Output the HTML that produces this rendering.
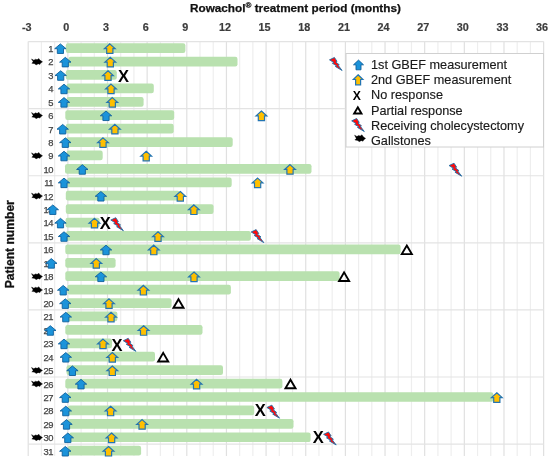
<!DOCTYPE html>
<html><head><meta charset="utf-8"><style>
html,body{margin:0;padding:0;background:#fff;}
body{width:550px;height:462px;overflow:hidden;position:relative;font-family:"Liberation Sans",sans-serif;}
svg{position:absolute;left:0;top:0;will-change:transform;filter:blur(0.3px);}
svg text{font-family:"Liberation Sans",sans-serif;}
</style></head><body>
<svg width="550" height="462" viewBox="0 0 550 462">
<text x="190" y="12" font-size="11.75" font-weight="bold" fill="#111" stroke="#111" stroke-width="0.25">Rowachol<tspan font-size="8" dy="-4">®</tspan><tspan dy="4"> treatment period (months)</tspan></text>
<text x="26.70" y="31" font-size="10.8" font-weight="bold" text-anchor="middle" fill="#3c3c3c" stroke="#3c3c3c" stroke-width="0.2">-3</text><text x="66.35" y="31" font-size="10.8" font-weight="bold" text-anchor="middle" fill="#3c3c3c" stroke="#3c3c3c" stroke-width="0.2">0</text><text x="106.00" y="31" font-size="10.8" font-weight="bold" text-anchor="middle" fill="#3c3c3c" stroke="#3c3c3c" stroke-width="0.2">3</text><text x="145.65" y="31" font-size="10.8" font-weight="bold" text-anchor="middle" fill="#3c3c3c" stroke="#3c3c3c" stroke-width="0.2">6</text><text x="185.29" y="31" font-size="10.8" font-weight="bold" text-anchor="middle" fill="#3c3c3c" stroke="#3c3c3c" stroke-width="0.2">9</text><text x="224.94" y="31" font-size="10.8" font-weight="bold" text-anchor="middle" fill="#3c3c3c" stroke="#3c3c3c" stroke-width="0.2">12</text><text x="264.59" y="31" font-size="10.8" font-weight="bold" text-anchor="middle" fill="#3c3c3c" stroke="#3c3c3c" stroke-width="0.2">15</text><text x="304.24" y="31" font-size="10.8" font-weight="bold" text-anchor="middle" fill="#3c3c3c" stroke="#3c3c3c" stroke-width="0.2">18</text><text x="343.89" y="31" font-size="10.8" font-weight="bold" text-anchor="middle" fill="#3c3c3c" stroke="#3c3c3c" stroke-width="0.2">21</text><text x="383.53" y="31" font-size="10.8" font-weight="bold" text-anchor="middle" fill="#3c3c3c" stroke="#3c3c3c" stroke-width="0.2">24</text><text x="423.18" y="31" font-size="10.8" font-weight="bold" text-anchor="middle" fill="#3c3c3c" stroke="#3c3c3c" stroke-width="0.2">27</text><text x="462.83" y="31" font-size="10.8" font-weight="bold" text-anchor="middle" fill="#3c3c3c" stroke="#3c3c3c" stroke-width="0.2">30</text><text x="502.48" y="31" font-size="10.8" font-weight="bold" text-anchor="middle" fill="#3c3c3c" stroke="#3c3c3c" stroke-width="0.2">33</text><text x="542.13" y="31" font-size="10.8" font-weight="bold" text-anchor="middle" fill="#3c3c3c" stroke="#3c3c3c" stroke-width="0.2">36</text>
<text transform="translate(14.0,244.2) rotate(-90)" font-size="12.1" font-weight="bold" text-anchor="middle" fill="#111" stroke="#111" stroke-width="0.3">Patient number</text>
<line x1="28.20" y1="41.5" x2="28.20" y2="456.0" stroke="#e0e0e0" stroke-width="1.2"/><line x1="41.42" y1="41.5" x2="41.42" y2="456.0" stroke="#eeeeee" stroke-width="1.2"/><line x1="54.63" y1="41.5" x2="54.63" y2="456.0" stroke="#eeeeee" stroke-width="1.2"/><line x1="67.85" y1="41.5" x2="67.85" y2="456.0" stroke="#e0e0e0" stroke-width="1.2"/><line x1="81.07" y1="41.5" x2="81.07" y2="456.0" stroke="#eeeeee" stroke-width="1.2"/><line x1="94.28" y1="41.5" x2="94.28" y2="456.0" stroke="#eeeeee" stroke-width="1.2"/><line x1="107.50" y1="41.5" x2="107.50" y2="456.0" stroke="#e0e0e0" stroke-width="1.2"/><line x1="120.71" y1="41.5" x2="120.71" y2="456.0" stroke="#eeeeee" stroke-width="1.2"/><line x1="133.93" y1="41.5" x2="133.93" y2="456.0" stroke="#eeeeee" stroke-width="1.2"/><line x1="147.15" y1="41.5" x2="147.15" y2="456.0" stroke="#e0e0e0" stroke-width="1.2"/><line x1="160.36" y1="41.5" x2="160.36" y2="456.0" stroke="#eeeeee" stroke-width="1.2"/><line x1="173.58" y1="41.5" x2="173.58" y2="456.0" stroke="#eeeeee" stroke-width="1.2"/><line x1="186.79" y1="41.5" x2="186.79" y2="456.0" stroke="#e0e0e0" stroke-width="1.2"/><line x1="200.01" y1="41.5" x2="200.01" y2="456.0" stroke="#eeeeee" stroke-width="1.2"/><line x1="213.23" y1="41.5" x2="213.23" y2="456.0" stroke="#eeeeee" stroke-width="1.2"/><line x1="226.44" y1="41.5" x2="226.44" y2="456.0" stroke="#e0e0e0" stroke-width="1.2"/><line x1="239.66" y1="41.5" x2="239.66" y2="456.0" stroke="#eeeeee" stroke-width="1.2"/><line x1="252.87" y1="41.5" x2="252.87" y2="456.0" stroke="#eeeeee" stroke-width="1.2"/><line x1="266.09" y1="41.5" x2="266.09" y2="456.0" stroke="#e0e0e0" stroke-width="1.2"/><line x1="279.31" y1="41.5" x2="279.31" y2="456.0" stroke="#eeeeee" stroke-width="1.2"/><line x1="292.52" y1="41.5" x2="292.52" y2="456.0" stroke="#eeeeee" stroke-width="1.2"/><line x1="305.74" y1="41.5" x2="305.74" y2="456.0" stroke="#e0e0e0" stroke-width="1.2"/><line x1="318.95" y1="41.5" x2="318.95" y2="456.0" stroke="#eeeeee" stroke-width="1.2"/><line x1="332.17" y1="41.5" x2="332.17" y2="456.0" stroke="#eeeeee" stroke-width="1.2"/><line x1="345.39" y1="41.5" x2="345.39" y2="456.0" stroke="#e0e0e0" stroke-width="1.2"/><line x1="358.60" y1="41.5" x2="358.60" y2="456.0" stroke="#eeeeee" stroke-width="1.2"/><line x1="371.82" y1="41.5" x2="371.82" y2="456.0" stroke="#eeeeee" stroke-width="1.2"/><line x1="385.03" y1="41.5" x2="385.03" y2="456.0" stroke="#e0e0e0" stroke-width="1.2"/><line x1="398.25" y1="41.5" x2="398.25" y2="456.0" stroke="#eeeeee" stroke-width="1.2"/><line x1="411.47" y1="41.5" x2="411.47" y2="456.0" stroke="#eeeeee" stroke-width="1.2"/><line x1="424.68" y1="41.5" x2="424.68" y2="456.0" stroke="#e0e0e0" stroke-width="1.2"/><line x1="437.90" y1="41.5" x2="437.90" y2="456.0" stroke="#eeeeee" stroke-width="1.2"/><line x1="451.11" y1="41.5" x2="451.11" y2="456.0" stroke="#eeeeee" stroke-width="1.2"/><line x1="464.33" y1="41.5" x2="464.33" y2="456.0" stroke="#e0e0e0" stroke-width="1.2"/><line x1="477.55" y1="41.5" x2="477.55" y2="456.0" stroke="#eeeeee" stroke-width="1.2"/><line x1="490.76" y1="41.5" x2="490.76" y2="456.0" stroke="#eeeeee" stroke-width="1.2"/><line x1="503.98" y1="41.5" x2="503.98" y2="456.0" stroke="#e0e0e0" stroke-width="1.2"/><line x1="517.19" y1="41.5" x2="517.19" y2="456.0" stroke="#eeeeee" stroke-width="1.2"/><line x1="530.41" y1="41.5" x2="530.41" y2="456.0" stroke="#eeeeee" stroke-width="1.2"/><line x1="543.63" y1="41.5" x2="543.63" y2="456.0" stroke="#e0e0e0" stroke-width="1.2"/><line x1="28.20" y1="41.55" x2="543.63" y2="41.55" stroke="#e3e3e3" stroke-width="1.2"/><line x1="28.20" y1="108.64" x2="543.63" y2="108.64" stroke="#e3e3e3" stroke-width="1.2"/><line x1="28.20" y1="175.73" x2="543.63" y2="175.73" stroke="#e3e3e3" stroke-width="1.2"/><line x1="28.20" y1="242.82" x2="543.63" y2="242.82" stroke="#e3e3e3" stroke-width="1.2"/><line x1="28.20" y1="309.91" x2="543.63" y2="309.91" stroke="#e3e3e3" stroke-width="1.2"/><line x1="28.20" y1="377.00" x2="543.63" y2="377.00" stroke="#e3e3e3" stroke-width="1.2"/><line x1="28.20" y1="444.09" x2="543.63" y2="444.09" stroke="#e3e3e3" stroke-width="1.2"/><rect x="65.80" y="43.26" width="119.60" height="9.7" rx="2.2" fill="#b9e1af"/><rect x="68.30" y="56.68" width="169.20" height="9.7" rx="2.2" fill="#b9e1af"/><rect x="65.80" y="70.10" width="51.00" height="9.7" rx="2.2" fill="#b9e1af"/><rect x="66.50" y="83.51" width="87.30" height="9.7" rx="2.2" fill="#b9e1af"/><rect x="66.50" y="96.93" width="77.10" height="9.7" rx="2.2" fill="#b9e1af"/><rect x="65.30" y="110.35" width="108.90" height="9.7" rx="2.2" fill="#b9e1af"/><rect x="65.80" y="123.77" width="107.90" height="9.7" rx="2.2" fill="#b9e1af"/><rect x="66.00" y="137.19" width="166.70" height="9.7" rx="2.2" fill="#b9e1af"/><rect x="66.50" y="150.60" width="36.20" height="9.7" rx="2.2" fill="#b9e1af"/><rect x="65.00" y="164.02" width="246.50" height="9.7" rx="2.2" fill="#b9e1af"/><rect x="67.30" y="177.44" width="164.40" height="9.7" rx="2.2" fill="#b9e1af"/><rect x="65.80" y="190.86" width="114.20" height="9.7" rx="2.2" fill="#b9e1af"/><rect x="65.80" y="204.28" width="147.80" height="9.7" rx="2.2" fill="#b9e1af"/><rect x="65.50" y="217.69" width="34.10" height="9.7" rx="2.2" fill="#b9e1af"/><rect x="66.00" y="231.11" width="184.90" height="9.7" rx="2.2" fill="#b9e1af"/><rect x="65.30" y="244.53" width="335.30" height="9.7" rx="2.2" fill="#b9e1af"/><rect x="65.30" y="257.95" width="50.30" height="9.7" rx="2.2" fill="#b9e1af"/><rect x="65.30" y="271.37" width="274.30" height="9.7" rx="2.2" fill="#b9e1af"/><rect x="67.30" y="284.78" width="163.60" height="9.7" rx="2.2" fill="#b9e1af"/><rect x="67.00" y="298.20" width="104.60" height="9.7" rx="2.2" fill="#b9e1af"/><rect x="66.50" y="311.62" width="50.90" height="9.7" rx="2.2" fill="#b9e1af"/><rect x="65.30" y="325.04" width="137.20" height="9.7" rx="2.2" fill="#b9e1af"/><rect x="66.00" y="338.46" width="46.00" height="9.7" rx="2.2" fill="#b9e1af"/><rect x="67.80" y="351.87" width="87.20" height="9.7" rx="2.2" fill="#b9e1af"/><rect x="66.50" y="365.29" width="156.50" height="9.7" rx="2.2" fill="#b9e1af"/><rect x="65.30" y="378.71" width="217.10" height="9.7" rx="2.2" fill="#b9e1af"/><rect x="67.80" y="392.13" width="425.50" height="9.7" rx="2.2" fill="#b9e1af"/><rect x="67.80" y="405.55" width="186.40" height="9.7" rx="2.2" fill="#b9e1af"/><rect x="67.80" y="418.96" width="225.70" height="9.7" rx="2.2" fill="#b9e1af"/><rect x="69.00" y="432.38" width="241.60" height="9.7" rx="2.2" fill="#b9e1af"/><rect x="67.80" y="445.80" width="73.30" height="9.7" rx="2.2" fill="#b9e1af"/><text x="53.2" y="52.06" font-size="9.4" letter-spacing="-0.4" text-anchor="end" fill="#444" stroke="#444" stroke-width="0.25">1</text><text x="53.2" y="65.48" font-size="9.4" letter-spacing="-0.4" text-anchor="end" fill="#444" stroke="#444" stroke-width="0.25">2</text><polygon points="31.50,58.94 33.90,60.23 35.50,59.20 37.10,59.80 38.90,58.60 39.80,60.06 42.50,61.86 40.50,63.24 39.90,64.44 38.30,63.84 36.00,64.96 34.90,63.76 31.80,63.24 33.20,61.86" fill="#000" stroke="#000" stroke-width="0.4" stroke-linejoin="round"/><ellipse cx="37.10" cy="61.78" rx="3.50" ry="2.06" fill="#000"/><text x="53.2" y="78.90" font-size="9.4" letter-spacing="-0.4" text-anchor="end" fill="#444" stroke="#444" stroke-width="0.25">3</text><text x="53.2" y="92.31" font-size="9.4" letter-spacing="-0.4" text-anchor="end" fill="#444" stroke="#444" stroke-width="0.25">4</text><text x="53.2" y="105.73" font-size="9.4" letter-spacing="-0.4" text-anchor="end" fill="#444" stroke="#444" stroke-width="0.25">5</text><text x="53.2" y="119.15" font-size="9.4" letter-spacing="-0.4" text-anchor="end" fill="#444" stroke="#444" stroke-width="0.25">6</text><polygon points="31.50,112.61 33.90,113.90 35.50,112.87 37.10,113.47 38.90,112.27 39.80,113.73 42.50,115.54 40.50,116.91 39.90,118.12 38.30,117.51 36.00,118.63 34.90,117.43 31.80,116.91 33.20,115.54" fill="#000" stroke="#000" stroke-width="0.4" stroke-linejoin="round"/><ellipse cx="37.10" cy="115.45" rx="3.50" ry="2.06" fill="#000"/><text x="53.2" y="132.57" font-size="9.4" letter-spacing="-0.4" text-anchor="end" fill="#444" stroke="#444" stroke-width="0.25">7</text><text x="53.2" y="145.99" font-size="9.4" letter-spacing="-0.4" text-anchor="end" fill="#444" stroke="#444" stroke-width="0.25">8</text><text x="53.2" y="159.40" font-size="9.4" letter-spacing="-0.4" text-anchor="end" fill="#444" stroke="#444" stroke-width="0.25">9</text><polygon points="31.50,152.87 33.90,154.16 35.50,153.12 37.10,153.73 38.90,152.52 39.80,153.98 42.50,155.79 40.50,157.17 39.90,158.37 38.30,157.77 36.00,158.89 34.90,157.68 31.80,157.17 33.20,155.79" fill="#000" stroke="#000" stroke-width="0.4" stroke-linejoin="round"/><ellipse cx="37.10" cy="155.70" rx="3.50" ry="2.06" fill="#000"/><text x="53.2" y="172.82" font-size="9.4" letter-spacing="-0.4" text-anchor="end" fill="#444" stroke="#444" stroke-width="0.25">10</text><text x="53.2" y="186.24" font-size="9.4" letter-spacing="-0.4" text-anchor="end" fill="#444" stroke="#444" stroke-width="0.25">11</text><text x="53.2" y="199.66" font-size="9.4" letter-spacing="-0.4" text-anchor="end" fill="#444" stroke="#444" stroke-width="0.25">12</text><polygon points="31.50,193.12 33.90,194.41 35.50,193.38 37.10,193.98 38.90,192.78 39.80,194.24 42.50,196.04 40.50,197.42 39.90,198.62 38.30,198.02 36.00,199.14 34.90,197.94 31.80,197.42 33.20,196.04" fill="#000" stroke="#000" stroke-width="0.4" stroke-linejoin="round"/><ellipse cx="37.10" cy="195.96" rx="3.50" ry="2.06" fill="#000"/><text x="53.2" y="213.08" font-size="9.4" letter-spacing="-0.4" text-anchor="end" fill="#444" stroke="#444" stroke-width="0.25">13</text><text x="53.2" y="226.49" font-size="9.4" letter-spacing="-0.4" text-anchor="end" fill="#444" stroke="#444" stroke-width="0.25">14</text><text x="53.2" y="239.91" font-size="9.4" letter-spacing="-0.4" text-anchor="end" fill="#444" stroke="#444" stroke-width="0.25">15</text><text x="53.2" y="253.33" font-size="9.4" letter-spacing="-0.4" text-anchor="end" fill="#444" stroke="#444" stroke-width="0.25">16</text><text x="53.2" y="266.75" font-size="9.4" letter-spacing="-0.4" text-anchor="end" fill="#444" stroke="#444" stroke-width="0.25">17</text><text x="53.2" y="280.17" font-size="9.4" letter-spacing="-0.4" text-anchor="end" fill="#444" stroke="#444" stroke-width="0.25">18</text><polygon points="31.50,273.63 33.90,274.92 35.50,273.89 37.10,274.49 38.90,273.28 39.80,274.75 42.50,276.55 40.50,277.93 39.90,279.13 38.30,278.53 36.00,279.65 34.90,278.44 31.80,277.93 33.20,276.55" fill="#000" stroke="#000" stroke-width="0.4" stroke-linejoin="round"/><ellipse cx="37.10" cy="276.47" rx="3.50" ry="2.06" fill="#000"/><text x="53.2" y="293.58" font-size="9.4" letter-spacing="-0.4" text-anchor="end" fill="#444" stroke="#444" stroke-width="0.25">19</text><polygon points="31.50,287.05 33.90,288.34 35.50,287.30 37.10,287.91 38.90,286.70 39.80,288.16 42.50,289.97 40.50,291.35 39.90,292.55 38.30,291.95 36.00,293.07 34.90,291.86 31.80,291.35 33.20,289.97" fill="#000" stroke="#000" stroke-width="0.4" stroke-linejoin="round"/><ellipse cx="37.10" cy="289.88" rx="3.50" ry="2.06" fill="#000"/><text x="53.2" y="307.00" font-size="9.4" letter-spacing="-0.4" text-anchor="end" fill="#444" stroke="#444" stroke-width="0.25">20</text><text x="53.2" y="320.42" font-size="9.4" letter-spacing="-0.4" text-anchor="end" fill="#444" stroke="#444" stroke-width="0.25">21</text><text x="53.2" y="333.84" font-size="9.4" letter-spacing="-0.4" text-anchor="end" fill="#444" stroke="#444" stroke-width="0.25">22</text><text x="53.2" y="347.26" font-size="9.4" letter-spacing="-0.4" text-anchor="end" fill="#444" stroke="#444" stroke-width="0.25">23</text><text x="53.2" y="360.67" font-size="9.4" letter-spacing="-0.4" text-anchor="end" fill="#444" stroke="#444" stroke-width="0.25">24</text><text x="53.2" y="374.09" font-size="9.4" letter-spacing="-0.4" text-anchor="end" fill="#444" stroke="#444" stroke-width="0.25">25</text><polygon points="31.50,367.55 33.90,368.84 35.50,367.81 37.10,368.41 38.90,367.21 39.80,368.67 42.50,370.48 40.50,371.85 39.90,373.06 38.30,372.46 36.00,373.57 34.90,372.37 31.80,371.85 33.20,370.48" fill="#000" stroke="#000" stroke-width="0.4" stroke-linejoin="round"/><ellipse cx="37.10" cy="370.39" rx="3.50" ry="2.06" fill="#000"/><text x="53.2" y="387.51" font-size="9.4" letter-spacing="-0.4" text-anchor="end" fill="#444" stroke="#444" stroke-width="0.25">26</text><polygon points="31.50,380.97 33.90,382.26 35.50,381.23 37.10,381.83 38.90,380.63 39.80,382.09 42.50,383.90 40.50,385.27 39.90,386.48 38.30,385.87 36.00,386.99 34.90,385.79 31.80,385.27 33.20,383.90" fill="#000" stroke="#000" stroke-width="0.4" stroke-linejoin="round"/><ellipse cx="37.10" cy="383.81" rx="3.50" ry="2.06" fill="#000"/><text x="53.2" y="400.93" font-size="9.4" letter-spacing="-0.4" text-anchor="end" fill="#444" stroke="#444" stroke-width="0.25">27</text><text x="53.2" y="414.35" font-size="9.4" letter-spacing="-0.4" text-anchor="end" fill="#444" stroke="#444" stroke-width="0.25">28</text><text x="53.2" y="427.76" font-size="9.4" letter-spacing="-0.4" text-anchor="end" fill="#444" stroke="#444" stroke-width="0.25">29</text><text x="53.2" y="441.18" font-size="9.4" letter-spacing="-0.4" text-anchor="end" fill="#444" stroke="#444" stroke-width="0.25">30</text><polygon points="31.50,434.64 33.90,435.93 35.50,434.90 37.10,435.50 38.90,434.30 39.80,435.76 42.50,437.57 40.50,438.94 39.90,440.15 38.30,439.55 36.00,440.66 34.90,439.46 31.80,438.94 33.20,437.57" fill="#000" stroke="#000" stroke-width="0.4" stroke-linejoin="round"/><ellipse cx="37.10" cy="437.48" rx="3.50" ry="2.06" fill="#000"/><text x="53.2" y="454.60" font-size="9.4" letter-spacing="-0.4" text-anchor="end" fill="#444" stroke="#444" stroke-width="0.25">31</text><polygon points="60.40,43.91 66.10,48.71 63.50,48.71 63.50,53.46 57.30,53.46 57.30,48.71 54.70,48.71" fill="#1b93da" stroke="#10609c" stroke-width="0.9" stroke-linejoin="miter" stroke-miterlimit="4"/><polygon points="109.80,43.91 115.16,48.71 112.90,48.71 112.90,53.46 106.70,53.46 106.70,48.71 104.44,48.71" fill="#ffbf00" stroke="#2475b2" stroke-width="1.2" stroke-linejoin="miter" stroke-miterlimit="4"/><polygon points="65.30,57.33 71.00,62.13 68.40,62.13 68.40,66.88 62.20,66.88 62.20,62.13 59.60,62.13" fill="#1b93da" stroke="#10609c" stroke-width="0.9" stroke-linejoin="miter" stroke-miterlimit="4"/><polygon points="110.30,57.33 115.66,62.13 113.40,62.13 113.40,66.88 107.20,66.88 107.20,62.13 104.94,62.13" fill="#ffbf00" stroke="#2475b2" stroke-width="1.2" stroke-linejoin="miter" stroke-miterlimit="4"/><polygon points="334.43,57.48 329.50,59.84 333.91,62.54 332.41,63.33 336.62,65.85 335.33,66.47 342.10,70.48 338.11,65.25 339.27,64.78 335.77,62.06 337.04,61.39" fill="#ff0a0a" stroke="#1b6fa8" stroke-width="0.9" stroke-linejoin="miter" stroke-miterlimit="3"/><polygon points="60.70,70.75 66.40,75.55 63.80,75.55 63.80,80.30 57.60,80.30 57.60,75.55 55.00,75.55" fill="#1b93da" stroke="#10609c" stroke-width="0.9" stroke-linejoin="miter" stroke-miterlimit="4"/><polygon points="108.00,70.75 113.36,75.55 111.10,75.55 111.10,80.30 104.90,80.30 104.90,75.55 102.64,75.55" fill="#ffbf00" stroke="#2475b2" stroke-width="1.2" stroke-linejoin="miter" stroke-miterlimit="4"/><text x="123.50" y="82.00" font-size="16.5" font-weight="bold" text-anchor="middle" fill="#000">X</text><polygon points="64.00,84.16 69.70,88.96 67.10,88.96 67.10,93.71 60.90,93.71 60.90,88.96 58.30,88.96" fill="#1b93da" stroke="#10609c" stroke-width="0.9" stroke-linejoin="miter" stroke-miterlimit="4"/><polygon points="111.00,84.16 116.36,88.96 114.10,88.96 114.10,93.71 107.90,93.71 107.90,88.96 105.64,88.96" fill="#ffbf00" stroke="#2475b2" stroke-width="1.2" stroke-linejoin="miter" stroke-miterlimit="4"/><polygon points="64.00,97.58 69.70,102.38 67.10,102.38 67.10,107.13 60.90,107.13 60.90,102.38 58.30,102.38" fill="#1b93da" stroke="#10609c" stroke-width="0.9" stroke-linejoin="miter" stroke-miterlimit="4"/><polygon points="112.30,97.58 117.66,102.38 115.40,102.38 115.40,107.13 109.20,107.13 109.20,102.38 106.94,102.38" fill="#ffbf00" stroke="#2475b2" stroke-width="1.2" stroke-linejoin="miter" stroke-miterlimit="4"/><polygon points="106.00,111.00 111.70,115.80 109.10,115.80 109.10,120.55 102.90,120.55 102.90,115.80 100.30,115.80" fill="#1b93da" stroke="#10609c" stroke-width="0.9" stroke-linejoin="miter" stroke-miterlimit="4"/><polygon points="261.40,111.00 266.76,115.80 264.50,115.80 264.50,120.55 258.30,120.55 258.30,115.80 256.04,115.80" fill="#ffbf00" stroke="#2475b2" stroke-width="1.2" stroke-linejoin="miter" stroke-miterlimit="4"/><polygon points="62.70,124.42 68.40,129.22 65.80,129.22 65.80,133.97 59.60,133.97 59.60,129.22 57.00,129.22" fill="#1b93da" stroke="#10609c" stroke-width="0.9" stroke-linejoin="miter" stroke-miterlimit="4"/><polygon points="114.90,124.42 120.26,129.22 118.00,129.22 118.00,133.97 111.80,133.97 111.80,129.22 109.54,129.22" fill="#ffbf00" stroke="#2475b2" stroke-width="1.2" stroke-linejoin="miter" stroke-miterlimit="4"/><polygon points="65.30,137.84 71.00,142.64 68.40,142.64 68.40,147.39 62.20,147.39 62.20,142.64 59.60,142.64" fill="#1b93da" stroke="#10609c" stroke-width="0.9" stroke-linejoin="miter" stroke-miterlimit="4"/><polygon points="103.00,137.84 108.36,142.64 106.10,142.64 106.10,147.39 99.90,147.39 99.90,142.64 97.64,142.64" fill="#ffbf00" stroke="#2475b2" stroke-width="1.2" stroke-linejoin="miter" stroke-miterlimit="4"/><polygon points="64.00,151.25 69.70,156.05 67.10,156.05 67.10,160.80 60.90,160.80 60.90,156.05 58.30,156.05" fill="#1b93da" stroke="#10609c" stroke-width="0.9" stroke-linejoin="miter" stroke-miterlimit="4"/><polygon points="146.20,151.25 151.56,156.05 149.30,156.05 149.30,160.80 143.10,160.80 143.10,156.05 140.84,156.05" fill="#ffbf00" stroke="#2475b2" stroke-width="1.2" stroke-linejoin="miter" stroke-miterlimit="4"/><polygon points="82.30,164.67 88.00,169.47 85.40,169.47 85.40,174.22 79.20,174.22 79.20,169.47 76.60,169.47" fill="#1b93da" stroke="#10609c" stroke-width="0.9" stroke-linejoin="miter" stroke-miterlimit="4"/><polygon points="290.00,164.67 295.36,169.47 293.10,169.47 293.10,174.22 286.90,174.22 286.90,169.47 284.64,169.47" fill="#ffbf00" stroke="#2475b2" stroke-width="1.2" stroke-linejoin="miter" stroke-miterlimit="4"/><polygon points="454.03,163.22 449.10,165.58 453.51,168.29 452.01,169.07 456.22,171.59 454.93,172.21 461.70,176.22 457.71,170.99 458.87,170.52 455.37,167.81 456.64,167.14" fill="#ff0a0a" stroke="#1b6fa8" stroke-width="0.9" stroke-linejoin="miter" stroke-miterlimit="3"/><polygon points="64.00,178.09 69.70,182.89 67.10,182.89 67.10,187.64 60.90,187.64 60.90,182.89 58.30,182.89" fill="#1b93da" stroke="#10609c" stroke-width="0.9" stroke-linejoin="miter" stroke-miterlimit="4"/><polygon points="257.60,178.09 262.96,182.89 260.70,182.89 260.70,187.64 254.50,187.64 254.50,182.89 252.24,182.89" fill="#ffbf00" stroke="#2475b2" stroke-width="1.2" stroke-linejoin="miter" stroke-miterlimit="4"/><polygon points="100.90,191.51 106.60,196.31 104.00,196.31 104.00,201.06 97.80,201.06 97.80,196.31 95.20,196.31" fill="#1b93da" stroke="#10609c" stroke-width="0.9" stroke-linejoin="miter" stroke-miterlimit="4"/><polygon points="180.30,191.51 185.66,196.31 183.40,196.31 183.40,201.06 177.20,201.06 177.20,196.31 174.94,196.31" fill="#ffbf00" stroke="#2475b2" stroke-width="1.2" stroke-linejoin="miter" stroke-miterlimit="4"/><polygon points="52.80,204.93 58.50,209.73 55.90,209.73 55.90,214.48 49.70,214.48 49.70,209.73 47.10,209.73" fill="#1b93da" stroke="#10609c" stroke-width="0.9" stroke-linejoin="miter" stroke-miterlimit="4"/><polygon points="193.90,204.93 199.26,209.73 197.00,209.73 197.00,214.48 190.80,214.48 190.80,209.73 188.54,209.73" fill="#ffbf00" stroke="#2475b2" stroke-width="1.2" stroke-linejoin="miter" stroke-miterlimit="4"/><polygon points="60.50,218.34 66.20,223.14 63.60,223.14 63.60,227.89 57.40,227.89 57.40,223.14 54.80,223.14" fill="#1b93da" stroke="#10609c" stroke-width="0.9" stroke-linejoin="miter" stroke-miterlimit="4"/><polygon points="94.50,218.34 99.86,223.14 97.60,223.14 97.60,227.89 91.40,227.89 91.40,223.14 89.14,223.14" fill="#ffbf00" stroke="#2475b2" stroke-width="1.2" stroke-linejoin="miter" stroke-miterlimit="4"/><text x="105.20" y="229.20" font-size="16.5" font-weight="bold" text-anchor="middle" fill="#000">X</text><polygon points="115.73,217.69 110.80,220.05 115.21,222.76 113.71,223.54 117.92,226.06 116.63,226.68 123.40,230.69 119.41,225.46 120.57,224.99 117.07,222.28 118.34,221.61" fill="#ff0a0a" stroke="#1b6fa8" stroke-width="0.9" stroke-linejoin="miter" stroke-miterlimit="3"/><polygon points="64.00,231.76 69.70,236.56 67.10,236.56 67.10,241.31 60.90,241.31 60.90,236.56 58.30,236.56" fill="#1b93da" stroke="#10609c" stroke-width="0.9" stroke-linejoin="miter" stroke-miterlimit="4"/><polygon points="158.00,231.76 163.36,236.56 161.10,236.56 161.10,241.31 154.90,241.31 154.90,236.56 152.64,236.56" fill="#ffbf00" stroke="#2475b2" stroke-width="1.2" stroke-linejoin="miter" stroke-miterlimit="4"/><polygon points="256.13,229.61 251.20,231.97 255.61,234.68 254.11,235.46 258.32,237.98 257.03,238.60 263.80,242.61 259.81,237.38 260.97,236.91 257.47,234.20 258.74,233.53" fill="#ff0a0a" stroke="#1b6fa8" stroke-width="0.9" stroke-linejoin="miter" stroke-miterlimit="3"/><polygon points="106.00,245.18 111.70,249.98 109.10,249.98 109.10,254.73 102.90,254.73 102.90,249.98 100.30,249.98" fill="#1b93da" stroke="#10609c" stroke-width="0.9" stroke-linejoin="miter" stroke-miterlimit="4"/><polygon points="153.80,245.18 159.16,249.98 156.90,249.98 156.90,254.73 150.70,254.73 150.70,249.98 148.44,249.98" fill="#ffbf00" stroke="#2475b2" stroke-width="1.2" stroke-linejoin="miter" stroke-miterlimit="4"/><polygon points="406.80,245.55 411.83,254.11 401.77,254.11" fill="none" stroke="#000" stroke-width="1.9" stroke-linejoin="miter"/><polygon points="51.30,258.60 57.00,263.40 54.40,263.40 54.40,268.15 48.20,268.15 48.20,263.40 45.60,263.40" fill="#1b93da" stroke="#10609c" stroke-width="0.9" stroke-linejoin="miter" stroke-miterlimit="4"/><polygon points="96.30,258.60 101.66,263.40 99.40,263.40 99.40,268.15 93.20,268.15 93.20,263.40 90.94,263.40" fill="#ffbf00" stroke="#2475b2" stroke-width="1.2" stroke-linejoin="miter" stroke-miterlimit="4"/><polygon points="100.90,272.02 106.60,276.82 104.00,276.82 104.00,281.57 97.80,281.57 97.80,276.82 95.20,276.82" fill="#1b93da" stroke="#10609c" stroke-width="0.9" stroke-linejoin="miter" stroke-miterlimit="4"/><polygon points="194.00,272.02 199.36,276.82 197.10,276.82 197.10,281.57 190.90,281.57 190.90,276.82 188.64,276.82" fill="#ffbf00" stroke="#2475b2" stroke-width="1.2" stroke-linejoin="miter" stroke-miterlimit="4"/><polygon points="344.10,272.39 349.13,280.95 339.07,280.95" fill="none" stroke="#000" stroke-width="1.9" stroke-linejoin="miter"/><polygon points="63.20,285.43 68.90,290.23 66.30,290.23 66.30,294.98 60.10,294.98 60.10,290.23 57.50,290.23" fill="#1b93da" stroke="#10609c" stroke-width="0.9" stroke-linejoin="miter" stroke-miterlimit="4"/><polygon points="143.40,285.43 148.76,290.23 146.50,290.23 146.50,294.98 140.30,294.98 140.30,290.23 138.04,290.23" fill="#ffbf00" stroke="#2475b2" stroke-width="1.2" stroke-linejoin="miter" stroke-miterlimit="4"/><polygon points="65.30,298.85 71.00,303.65 68.40,303.65 68.40,308.40 62.20,308.40 62.20,303.65 59.60,303.65" fill="#1b93da" stroke="#10609c" stroke-width="0.9" stroke-linejoin="miter" stroke-miterlimit="4"/><polygon points="109.00,298.85 114.36,303.65 112.10,303.65 112.10,308.40 105.90,308.40 105.90,303.65 103.64,303.65" fill="#ffbf00" stroke="#2475b2" stroke-width="1.2" stroke-linejoin="miter" stroke-miterlimit="4"/><polygon points="178.50,299.22 183.53,307.78 173.47,307.78" fill="none" stroke="#000" stroke-width="1.9" stroke-linejoin="miter"/><polygon points="65.80,312.27 71.50,317.07 68.90,317.07 68.90,321.82 62.70,321.82 62.70,317.07 60.10,317.07" fill="#1b93da" stroke="#10609c" stroke-width="0.9" stroke-linejoin="miter" stroke-miterlimit="4"/><polygon points="111.00,312.27 116.36,317.07 114.10,317.07 114.10,321.82 107.90,321.82 107.90,317.07 105.64,317.07" fill="#ffbf00" stroke="#2475b2" stroke-width="1.2" stroke-linejoin="miter" stroke-miterlimit="4"/><polygon points="50.30,325.69 56.00,330.49 53.40,330.49 53.40,335.24 47.20,335.24 47.20,330.49 44.60,330.49" fill="#1b93da" stroke="#10609c" stroke-width="0.9" stroke-linejoin="miter" stroke-miterlimit="4"/><polygon points="143.60,325.69 148.96,330.49 146.70,330.49 146.70,335.24 140.50,335.24 140.50,330.49 138.24,330.49" fill="#ffbf00" stroke="#2475b2" stroke-width="1.2" stroke-linejoin="miter" stroke-miterlimit="4"/><polygon points="64.00,339.11 69.70,343.91 67.10,343.91 67.10,348.66 60.90,348.66 60.90,343.91 58.30,343.91" fill="#1b93da" stroke="#10609c" stroke-width="0.9" stroke-linejoin="miter" stroke-miterlimit="4"/><polygon points="103.00,339.11 108.36,343.91 106.10,343.91 106.10,348.66 99.90,348.66 99.90,343.91 97.64,343.91" fill="#ffbf00" stroke="#2475b2" stroke-width="1.2" stroke-linejoin="miter" stroke-miterlimit="4"/><text x="117.00" y="351.26" font-size="16.5" font-weight="bold" text-anchor="middle" fill="#000">X</text><polygon points="128.23,338.36 123.30,340.72 127.71,343.42 126.21,344.21 130.42,346.72 129.13,347.34 135.90,351.36 131.91,346.13 133.07,345.65 129.57,342.94 130.84,342.27" fill="#ff0a0a" stroke="#1b6fa8" stroke-width="0.9" stroke-linejoin="miter" stroke-miterlimit="3"/><polygon points="65.80,352.52 71.50,357.32 68.90,357.32 68.90,362.07 62.70,362.07 62.70,357.32 60.10,357.32" fill="#1b93da" stroke="#10609c" stroke-width="0.9" stroke-linejoin="miter" stroke-miterlimit="4"/><polygon points="112.30,352.52 117.66,357.32 115.40,357.32 115.40,362.07 109.20,362.07 109.20,357.32 106.94,357.32" fill="#ffbf00" stroke="#2475b2" stroke-width="1.2" stroke-linejoin="miter" stroke-miterlimit="4"/><polygon points="163.20,352.89 168.23,361.45 158.17,361.45" fill="none" stroke="#000" stroke-width="1.9" stroke-linejoin="miter"/><polygon points="72.40,365.94 78.10,370.74 75.50,370.74 75.50,375.49 69.30,375.49 69.30,370.74 66.70,370.74" fill="#1b93da" stroke="#10609c" stroke-width="0.9" stroke-linejoin="miter" stroke-miterlimit="4"/><polygon points="112.30,365.94 117.66,370.74 115.40,370.74 115.40,375.49 109.20,375.49 109.20,370.74 106.94,370.74" fill="#ffbf00" stroke="#2475b2" stroke-width="1.2" stroke-linejoin="miter" stroke-miterlimit="4"/><polygon points="81.00,379.36 86.70,384.16 84.10,384.16 84.10,388.91 77.90,388.91 77.90,384.16 75.30,384.16" fill="#1b93da" stroke="#10609c" stroke-width="0.9" stroke-linejoin="miter" stroke-miterlimit="4"/><polygon points="196.60,379.36 201.96,384.16 199.70,384.16 199.70,388.91 193.50,388.91 193.50,384.16 191.24,384.16" fill="#ffbf00" stroke="#2475b2" stroke-width="1.2" stroke-linejoin="miter" stroke-miterlimit="4"/><polygon points="290.50,379.73 295.53,388.29 285.47,388.29" fill="none" stroke="#000" stroke-width="1.9" stroke-linejoin="miter"/><polygon points="65.30,392.78 71.00,397.58 68.40,397.58 68.40,402.33 62.20,402.33 62.20,397.58 59.60,397.58" fill="#1b93da" stroke="#10609c" stroke-width="0.9" stroke-linejoin="miter" stroke-miterlimit="4"/><polygon points="496.80,392.78 502.16,397.58 499.90,397.58 499.90,402.33 493.70,402.33 493.70,397.58 491.44,397.58" fill="#ffbf00" stroke="#2475b2" stroke-width="1.2" stroke-linejoin="miter" stroke-miterlimit="4"/><polygon points="65.80,406.20 71.50,411.00 68.90,411.00 68.90,415.75 62.70,415.75 62.70,411.00 60.10,411.00" fill="#1b93da" stroke="#10609c" stroke-width="0.9" stroke-linejoin="miter" stroke-miterlimit="4"/><polygon points="110.60,406.20 115.96,411.00 113.70,411.00 113.70,415.75 107.50,415.75 107.50,411.00 105.24,411.00" fill="#ffbf00" stroke="#2475b2" stroke-width="1.2" stroke-linejoin="miter" stroke-miterlimit="4"/><text x="260.20" y="415.65" font-size="16.5" font-weight="bold" text-anchor="middle" fill="#000">X</text><polygon points="271.83,405.15 266.90,407.51 271.31,410.21 269.81,411.00 274.02,413.51 272.73,414.13 279.50,418.15 275.51,412.92 276.67,412.44 273.17,409.73 274.44,409.06" fill="#ff0a0a" stroke="#1b6fa8" stroke-width="0.9" stroke-linejoin="miter" stroke-miterlimit="3"/><polygon points="66.50,419.61 72.20,424.41 69.60,424.41 69.60,429.16 63.40,429.16 63.40,424.41 60.80,424.41" fill="#1b93da" stroke="#10609c" stroke-width="0.9" stroke-linejoin="miter" stroke-miterlimit="4"/><polygon points="142.10,419.61 147.46,424.41 145.20,424.41 145.20,429.16 139.00,429.16 139.00,424.41 136.74,424.41" fill="#ffbf00" stroke="#2475b2" stroke-width="1.2" stroke-linejoin="miter" stroke-miterlimit="4"/><polygon points="67.80,433.03 73.50,437.83 70.90,437.83 70.90,442.58 64.70,442.58 64.70,437.83 62.10,437.83" fill="#1b93da" stroke="#10609c" stroke-width="0.9" stroke-linejoin="miter" stroke-miterlimit="4"/><polygon points="111.60,433.03 116.96,437.83 114.70,437.83 114.70,442.58 108.50,442.58 108.50,437.83 106.24,437.83" fill="#ffbf00" stroke="#2475b2" stroke-width="1.2" stroke-linejoin="miter" stroke-miterlimit="4"/><text x="318.30" y="443.09" font-size="16.5" font-weight="bold" text-anchor="middle" fill="#000">X</text><polygon points="328.53,431.98 323.60,434.34 328.01,437.05 326.51,437.83 330.72,440.35 329.43,440.97 336.20,444.98 332.21,439.75 333.37,439.28 329.87,436.57 331.14,435.90" fill="#ff0a0a" stroke="#1b6fa8" stroke-width="0.9" stroke-linejoin="miter" stroke-miterlimit="3"/><polygon points="65.30,446.45 71.00,451.25 68.40,451.25 68.40,456.00 62.20,456.00 62.20,451.25 59.60,451.25" fill="#1b93da" stroke="#10609c" stroke-width="0.9" stroke-linejoin="miter" stroke-miterlimit="4"/><polygon points="108.50,446.45 113.86,451.25 111.60,451.25 111.60,456.00 105.40,456.00 105.40,451.25 103.14,451.25" fill="#ffbf00" stroke="#2475b2" stroke-width="1.2" stroke-linejoin="miter" stroke-miterlimit="4"/>
<rect x="346" y="53.5" width="197.5" height="93.5" fill="#fff" stroke="#d0d0d0" stroke-width="1"/><text x="371" y="68.90" font-size="12.7" fill="#1a1a1a" stroke="#1a1a1a" stroke-width="0.15">1st GBEF measurement</text><text x="371" y="84.10" font-size="12.7" fill="#1a1a1a" stroke="#1a1a1a" stroke-width="0.15">2nd GBEF measurement</text><text x="371" y="99.30" font-size="12.7" fill="#1a1a1a" stroke="#1a1a1a" stroke-width="0.15">No response</text><text x="371" y="114.50" font-size="12.7" fill="#1a1a1a" stroke="#1a1a1a" stroke-width="0.15">Partial response</text><text x="371" y="129.70" font-size="12.7" fill="#1a1a1a" stroke="#1a1a1a" stroke-width="0.15">Receiving cholecystectomy</text><text x="371" y="144.90" font-size="12.7" fill="#1a1a1a" stroke="#1a1a1a" stroke-width="0.15">Gallstones</text><polygon points="358.50,60.10 363.50,64.80 361.00,64.80 361.00,69.80 356.00,69.80 356.00,64.80 353.50,64.80" fill="#1b93da" stroke="#10609c" stroke-width="0.9" stroke-linejoin="miter" stroke-miterlimit="4"/><polygon points="358.10,74.80 362.90,79.50 360.60,79.50 360.60,84.80 355.60,84.80 355.60,79.50 353.30,79.50" fill="#ffbf00" stroke="#2475b2" stroke-width="1.2" stroke-linejoin="miter" stroke-miterlimit="4"/><text x="356.90" y="99.87" font-size="12.2" font-weight="bold" text-anchor="middle" fill="#000">X</text><polygon points="357.80,107.28 361.47,113.52 354.13,113.52" fill="none" stroke="#000" stroke-width="1.9" stroke-linejoin="miter"/><polygon points="356.63,118.50 351.70,120.86 356.11,123.56 354.61,124.35 358.82,126.87 357.53,127.49 364.30,131.50 360.31,126.27 361.47,125.80 357.97,123.09 359.24,122.42" fill="#ff0a0a" stroke="#1b6fa8" stroke-width="0.9" stroke-linejoin="miter" stroke-miterlimit="3"/><polygon points="354.60,135.17 357.00,136.59 358.60,135.45 360.20,136.12 362.00,134.79 362.90,136.40 365.60,138.40 363.60,139.92 363.00,141.25 361.40,140.58 359.10,141.81 358.00,140.49 354.90,139.92 356.30,138.40" fill="#000" stroke="#000" stroke-width="0.4" stroke-linejoin="round"/><ellipse cx="360.20" cy="138.30" rx="3.50" ry="2.28" fill="#000"/>
</svg>
</body></html>
